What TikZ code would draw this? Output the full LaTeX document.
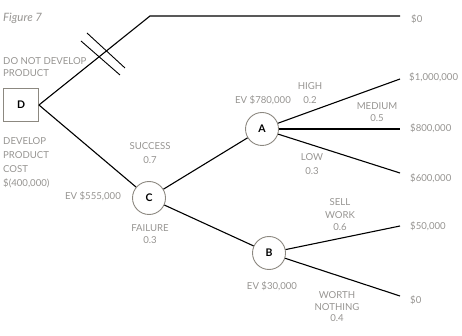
\documentclass[tikz,border=0pt]{standalone}
\usepackage{fontspec}
\setmainfont{Lato}
\definecolor{txtgray}{RGB}{150,148,145}
\definecolor{nodegray}{RGB}{140,136,128}
\begin{document}
\begin{tikzpicture}[x=1pt,y=-1pt,
  lbl/.style={text=txtgray, font=\fontsize{9.6}{13.5}\selectfont, inner sep=0pt, align=center},
  lbll/.style={lbl, align=left, anchor=west},
  chance/.style={circle, draw=nodegray, line width=0.9pt, minimum size=33pt, inner sep=0pt, font=\bfseries\fontsize{10.5}{12}\selectfont},
  decision/.style={rectangle, draw=nodegray, line width=0.9pt, minimum width=35pt, minimum height=33pt, inner sep=0pt, font=\bfseries\fontsize{10.5}{12}\selectfont},
  branch/.style={line width=1.1pt, black},
  hash/.style={line width=0.9pt, black}]
\useasboundingbox (0,0) rectangle (462,336);
% nodes
\node[decision] (D) at (21,105) {D};
\node[chance] (C) at (149,198) {C};
\node[chance] (A) at (262,129) {A};
\node[chance] (B) at (269,253) {B};
% coordinates
\coordinate (k) at (150,16);
\coordinate (e0) at (400,16);
\coordinate (e1) at (400,79);
\coordinate (e2) at (400,129);
\coordinate (e3) at (400,173);
\coordinate (e4) at (400,226);
\coordinate (e5) at (400,296);
\coordinate (h1a) at (87,33);
\coordinate (h1b) at (125,68);
\coordinate (h2a) at (81,41);
\coordinate (h2b) at (120,75);
% branches
\draw[branch] (D.east) -- (k) -- (e0);
\draw[branch] (D.east) -- (C);
\draw[branch] (C) -- (A);
\draw[branch] (C) -- (B);
\draw[branch] (A) -- (e1);
\draw[branch] (A) -- (e2);
\draw[branch] (A) -- (e3);
\draw[branch] (B) -- (e4);
\draw[branch] (B) -- (e5);
\draw[hash] (h1a) -- (h1b);
\draw[hash] (h2a) -- (h2b);
% labels
\node[lbll, font=\itshape\fontsize{11.5}{13}\selectfont] (fig) at (3,18) {Figure 7};
\node[lbll, font=\fontsize{9.6}{12.5}\selectfont] (dnd) at (3,67) {DO NOT DEVELOP\\PRODUCT};
\node[lbll, font=\fontsize{9.6}{14}\selectfont] (dev) at (3,163) {DEVELOP\\PRODUCT\\COST\\\$(400,000)};
\node[lbl] (succ) at (150,153) {SUCCESS\\0.7};
\node[lbl] (evc) at (93,196) {EV \$555,000};
\node[lbl, font=\fontsize{9.6}{12.5}\selectfont] (fail) at (150,234) {FAILURE\\0.3};
\node[lbl] (eva) at (263,100) {EV \$780,000};
\node[lbl] (high) at (310,93) {HIGH\\0.2};
\node[lbl, font=\fontsize{9.6}{12.5}\selectfont] (med) at (377,112) {MEDIUM\\0.5};
\node[lbl] (low) at (312,164) {LOW\\0.3};
\node[lbl, font=\fontsize{9.6}{12.5}\selectfont] (sell) at (340,215) {SELL\\WORK\\0.6};
\node[lbl] (evb) at (272,286) {EV \$30,000};
\node[lbl, font=\fontsize{9.6}{11.5}\selectfont] (worth) at (337,307) {WORTH\\NOTHING\\0.4};
\node[lbll] (v0) at (411,19) {\$0};
\node[lbll] (v1) at (409,77) {\$1,000,000};
\node[lbll] (v2) at (410,128) {\$800,000};
\node[lbll] (v3) at (410,178) {\$600,000};
\node[lbll] (v4) at (410,226) {\$50,000};
\node[lbll] (v5) at (410,300) {\$0};
\end{tikzpicture}
\end{document}
